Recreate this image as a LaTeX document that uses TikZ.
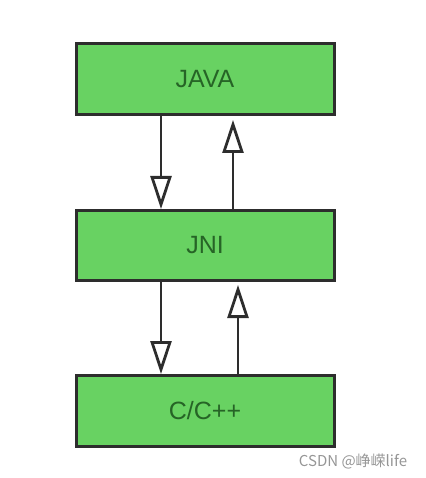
\documentclass[tikz,border=0pt]{standalone}
\usepackage{fontspec}
\setmainfont{Liberation Sans}
\newfontfamily\cjkfont{Noto Sans CJK SC}
\usetikzlibrary{arrows.meta}
\definecolor{boxgreen}{RGB}{104,210,98}
\definecolor{boxline}{RGB}{45,45,45}
\definecolor{txtgreen}{RGB}{38,100,38}
\definecolor{wmgray}{RGB}{150,150,150}
\tikzset{
  layerbox/.style={draw=boxline, line width=3pt, fill=boxgreen, minimum width=258pt, minimum height=71pt, inner sep=0pt, text=txtgreen, font=\fontsize{25}{25}\selectfont},
  flow/.style={draw=boxline, line width=2.8pt, -{Triangle[open, length=33pt, width=21pt]}}
}
\begin{document}
\begin{tikzpicture}[x=1pt,y=-1pt]
\useasboundingbox (0,0) rectangle (425,478);
\node[layerbox] (java) at (205,79.5) {JAVA};
\node[layerbox, minimum height=70pt] (jni) at (205,245) {JNI};
\node[layerbox] (cpp) at (205,410.5) {C/C++};
\coordinate (d1s) at (161,115); \coordinate (d1e) at (161,209);
\coordinate (u1s) at (233,210); \coordinate (u1e) at (233,120);
\coordinate (d2s) at (161,280); \coordinate (d2e) at (161,374);
\coordinate (u2s) at (238,375); \coordinate (u2e) at (238,285);
\draw[flow] (d1s) -- (d1e);
\draw[flow] (u1s) -- (u1e);
\draw[flow] (d2s) -- (d2e);
\draw[flow] (u2s) -- (u2e);
\node[text=wmgray, font=\cjkfont\fontsize{15}{15}\selectfont, inner sep=0pt] (wm) at (353,461) {CSDN @峥嵘life};
\end{tikzpicture}
\end{document}
